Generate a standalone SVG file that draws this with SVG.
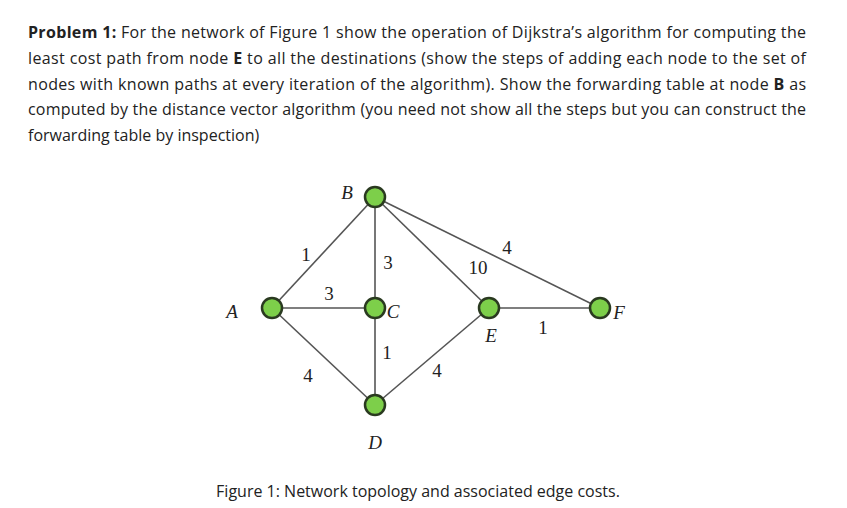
<svg xmlns="http://www.w3.org/2000/svg" width="847" height="508" viewBox="0 0 847 508">
<style>
.p{font-family:"Open Sans","Liberation Sans",sans-serif;font-size:16px;fill:#222}
.b{font-weight:bold}
.n{fill:#7dcf4a;stroke:#2a3a20;stroke-width:2.5}
.e{stroke:#555;stroke-width:1.6;fill:none}
.l{font-family:"Liberation Serif",serif;font-size:19px;fill:#222;text-anchor:middle;dominant-baseline:central}
.i{font-style:italic}
</style>
<rect width="847" height="508" fill="#fff"/>
<text class="p" x="28" y="38" textLength="778" lengthAdjust="spacing"><tspan class="b">Problem 1:</tspan> For the network of Figure 1 show the operation of Dijkstra’s algorithm for computing the</text>
<text class="p" x="28" y="64" textLength="778" lengthAdjust="spacing">least cost path from node <tspan class="b">E</tspan> to all the destinations (show the steps of adding each node to the set of</text>
<text class="p" x="28" y="90" textLength="778" lengthAdjust="spacing">nodes with known paths at every iteration of the algorithm).  Show the forwarding table at node <tspan class="b">B</tspan> as</text>
<text class="p" x="28" y="115" textLength="778" lengthAdjust="spacing">computed by the distance vector algorithm (you need not show all the steps but you can construct the</text>
<text class="p" x="28" y="141">forwarding table by inspection)</text>
<g id="connectors">
<line class="e" x1="272" y1="308" x2="375" y2="197"/>
<line class="e" x1="272" y1="308" x2="375" y2="308"/>
<line class="e" x1="272" y1="308" x2="375" y2="405"/>
<line class="e" x1="375" y1="197" x2="375" y2="405"/>
<line class="e" x1="375" y1="197" x2="489" y2="308"/>
<line class="e" x1="375" y1="197" x2="600" y2="308"/>
<line class="e" x1="375" y1="405" x2="489" y2="308"/>
<line class="e" x1="489" y1="308" x2="600" y2="308"/>
<text class="l" x="306" y="254">1</text>
<text class="l" x="388" y="262">3</text>
<text class="l" x="478" y="267">10</text>
<text class="l" x="507" y="247">4</text>
<text class="l" x="329" y="293">3</text>
<text class="l" x="543" y="327">1</text>
<text class="l" x="387" y="352">1</text>
<text class="l" x="308" y="375">4</text>
<text class="l" x="437" y="370">4</text>
</g>
<g id="node-B"><circle class="n" cx="375" cy="197" r="10"/><text class="l i" x="347" y="192">B</text></g>
<g id="node-A"><circle class="n" cx="272" cy="308" r="10"/><text class="l i" x="232" y="311">A</text></g>
<g id="node-C"><circle class="n" cx="375" cy="308" r="10"/><text class="l i" x="393" y="311">C</text></g>
<g id="node-E"><circle class="n" cx="489" cy="308" r="10"/><text class="l i" x="491" y="335">E</text></g>
<g id="node-F"><circle class="n" cx="600" cy="308" r="10"/><text class="l i" x="619" y="312">F</text></g>
<g id="node-D"><circle class="n" cx="375" cy="405" r="10"/><text class="l i" x="375" y="442">D</text></g>
<text class="p" x="418" y="497" text-anchor="middle">Figure 1: Network topology and associated edge costs.</text>
</svg>
